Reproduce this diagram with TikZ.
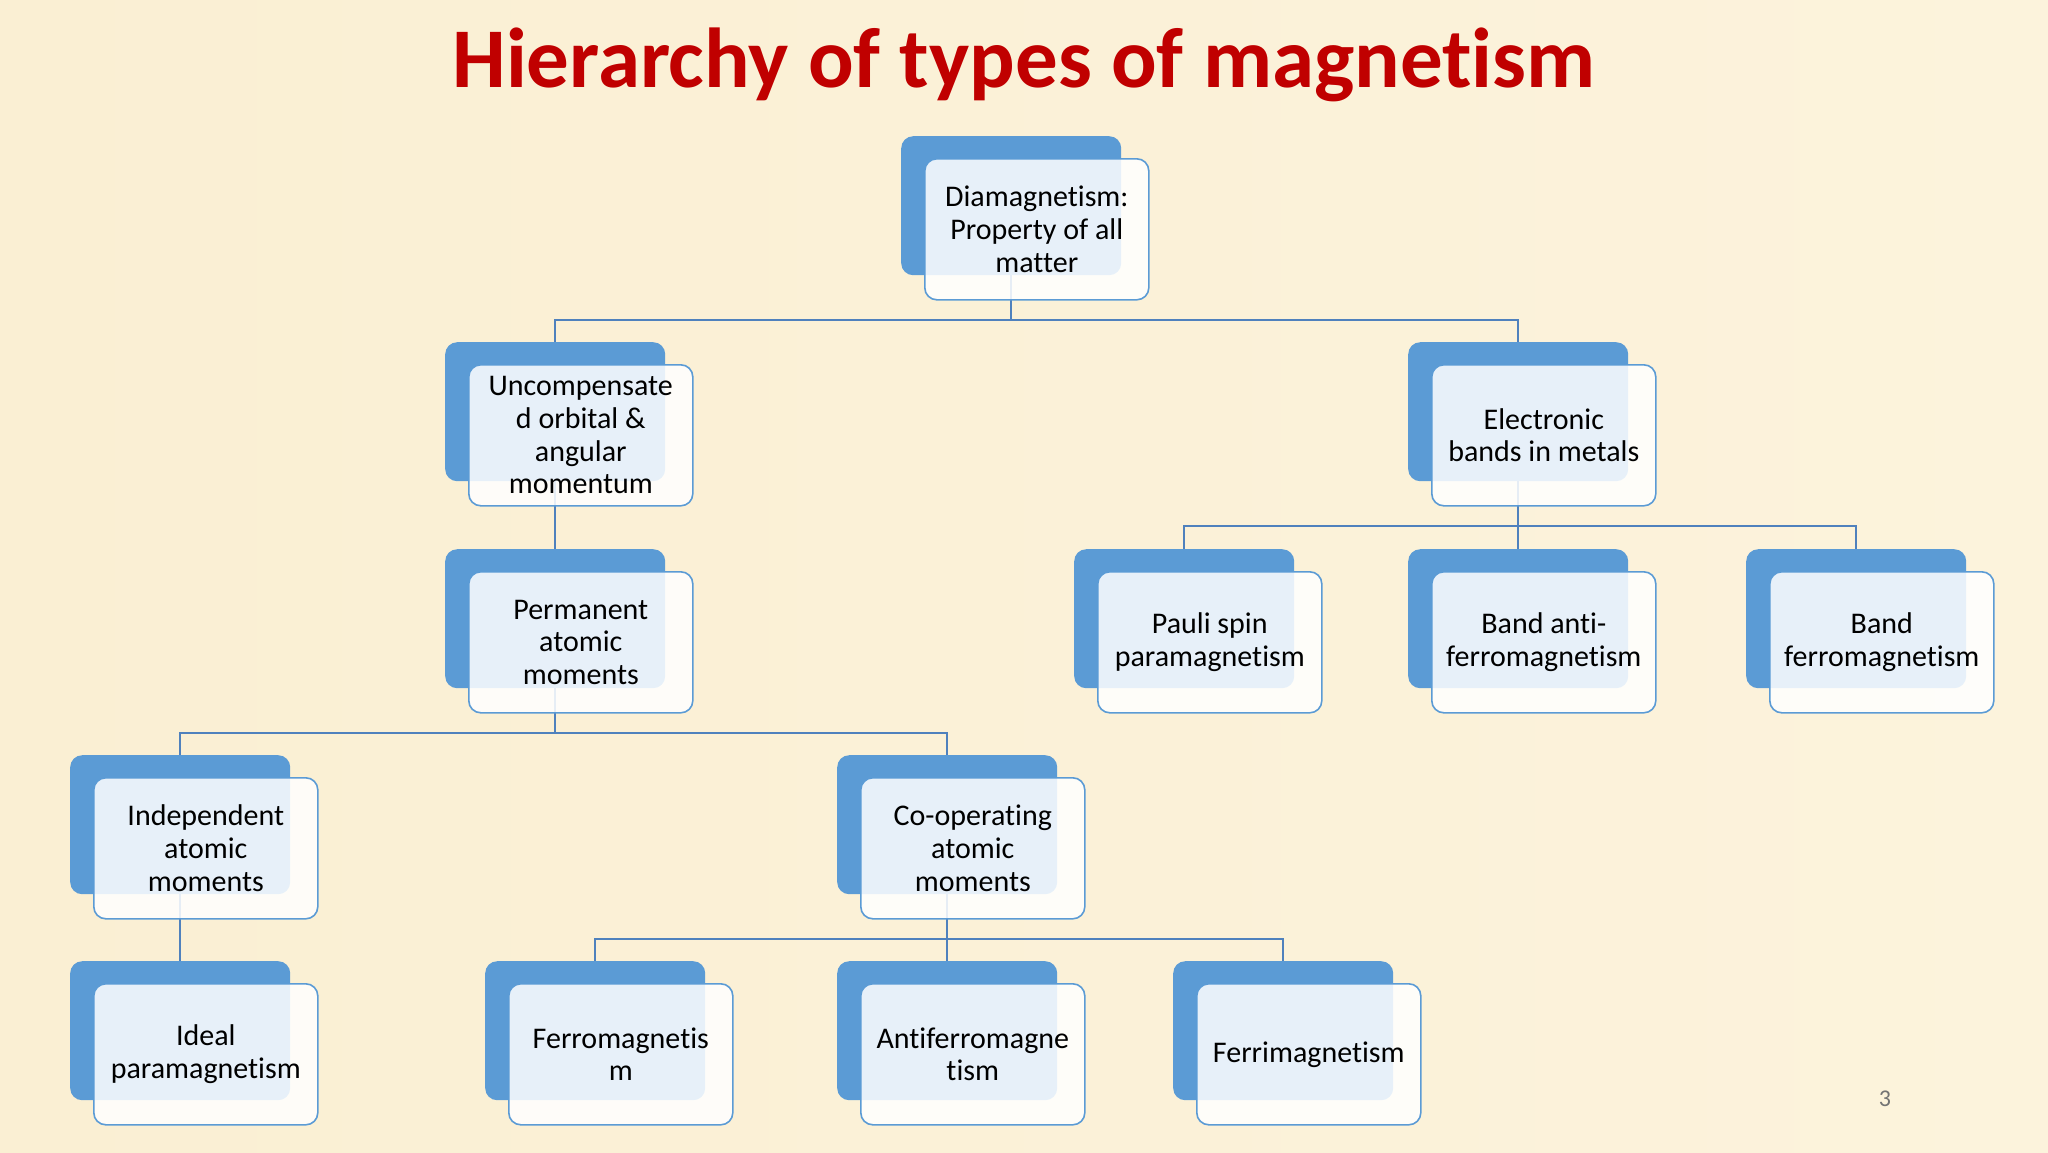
\documentclass[tikz,border=0pt]{standalone}
\usepackage{fontspec}
\setmainfont{Carlito}[Ligatures=NoCommon]
\definecolor{bgc}{HTML}{FAEFD3}
\definecolor{bgl}{HTML}{FCF3DC}
\definecolor{boxblue}{HTML}{5B9BD5}
\definecolor{linec}{HTML}{4F81BD}
\definecolor{titlered}{HTML}{C00000}
\begin{document}
\begin{tikzpicture}[x=1pt,y=-1pt,
  back/.style={rectangle, rounded corners=12pt, fill=boxblue, draw=none, anchor=north west,
    minimum width=220pt, minimum height=139pt, inner sep=0pt},
  front/.style={rectangle, rounded corners=12pt, fill=white, fill opacity=0.86, text opacity=1,
    draw=boxblue, line width=1.6pt, anchor=north west, minimum width=224pt, minimum height=141pt,
    inner sep=0pt, align=center, font=\fontsize{30}{32.7}\selectfont, text=black},
  conn/.style={draw=linec, line width=1.8pt}]
\shade[left color=bgc, right color=bgl] (0,0) rectangle (2048,1152);
\useasboundingbox (0,0) rectangle (2048,1152);
\node[font=\fontsize{85}{90}\selectfont\bfseries, text=titlered, anchor=base] (title) at (1024,87) {Hierarchy of types of magnetism};
% back boxes
\node[back] (dB) at (901,136) {};
\node[back] (uB) at (445,342) {};
\node[back] (eB) at (1408,342) {};
\node[back] (pB) at (445,549) {};
\node[back] (paB) at (1074,549) {};
\node[back] (baB) at (1408,549) {};
\node[back] (bfB) at (1746,549) {};
\node[back] (iB) at (70,755) {};
\node[back] (cB) at (837,755) {};
\node[back] (idB) at (70,961) {};
\node[back] (fB) at (485,961) {};
\node[back] (afB) at (837,961) {};
\node[back] (fiB) at (1173,961) {};
% connectors
\draw[conn] (dB.south) -- (dB.south |- 0,320) -| (uB.north);
\draw[conn] (dB.south |- 0,320) -| (eB.north);
\draw[conn] (uB.south) -- (pB.north);
\draw[conn] (eB.south) -- (baB.north);
\draw[conn] (eB.south |- 0,526) -| (paB.north);
\draw[conn] (eB.south |- 0,526) -| (bfB.north);
\draw[conn] (pB.south) -- (pB.south |- 0,733) -| (iB.north);
\draw[conn] (pB.south |- 0,733) -| (cB.north);
\draw[conn] (iB.south) -- (idB.north);
\draw[conn] (cB.south) -- (afB.north);
\draw[conn] (cB.south |- 0,939) -| (fB.north);
\draw[conn] (cB.south |- 0,939) -| (fiB.north);
% front boxes
\node[front] (dF) at (924,158) {Diamagnetism:\\Property of all\\matter};
\node[front] (uF) at (468,364) {Uncompensate\\d orbital \&\\angular\\momentum};
\node[front] (eF) at (1431,364) {Electronic\\bands in metals};
\node[front] (pF) at (468,571) {Permanent\\atomic\\moments};
\node[front] (paF) at (1097,571) {Pauli spin\\paramagnetism};
\node[front] (baF) at (1431,571) {Band anti-\\ferromagnetism};
\node[front] (bfF) at (1769,571) {Band\\ferromagnetism};
\node[front] (iF) at (93,777) {Independent\\atomic\\moments};
\node[front] (cF) at (860,777) {Co-operating\\atomic\\moments};
\node[front] (idF) at (93,983) {Ideal\\paramagnetism};
\node[front] (fF) at (508,983) {Ferromagnetis\\m};
\node[front] (afF) at (860,983) {Antiferromagne\\tism};
\node[front] (fiF) at (1196,983) {Ferrimagnetism};
\node[font=\fontsize{24}{28}\selectfont, text=black!55, anchor=center] (pg) at (1885,1099) {3};
\end{tikzpicture}
\end{document}
